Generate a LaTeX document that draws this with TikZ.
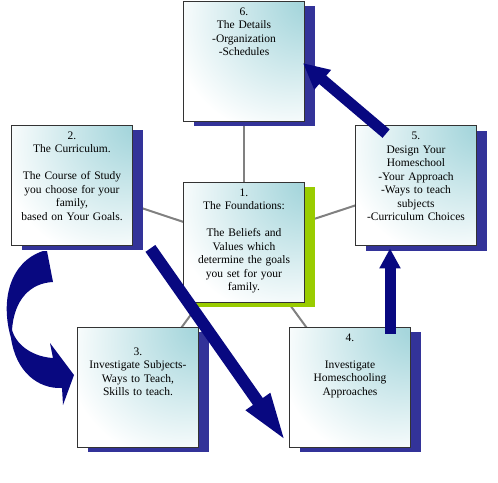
\documentclass[tikz,border=0pt]{standalone}
\usepackage{fontspec}
\setmainfont{Liberation Serif}
\usetikzlibrary{arrows.meta,shadows,backgrounds,calc}
\definecolor{boxtint}{RGB}{166,214,220}
\definecolor{boxshade}{RGB}{51,51,153}
\definecolor{foundshade}{RGB}{153,204,0}
\definecolor{arrownavy}{RGB}{8,8,128}
\definecolor{linkgray}{RGB}{128,128,128}
\pgfdeclareradialshading{boxglow}{\pgfpoint{30bp}{28bp}}{color(0bp)=(boxtint); color(6bp)=(boxtint); color(46bp)=(white); color(100bp)=(white)}
\begin{document}
\begin{tikzpicture}[x=1pt,y=-1pt]
        \tikzstyle{every node}=[font=\fontsize{11.5}{13.5}\selectfont]
        \tikzstyle{plainbox}=[draw=black!80, line width=0.8pt, minimum width=121pt, minimum height=120pt, inner sep=0pt, shade, shading=boxglow]
        \tikzstyle{stepbox}=[plainbox, drop shadow={shadow xshift=10pt, shadow yshift=-5pt, fill=boxshade, opacity=1}]
        \tikzstyle{foundbox}=[plainbox, drop shadow={shadow xshift=10pt, shadow yshift=-5pt, fill=foundshade, opacity=1}]
        \tikzstyle{boxtext}=[anchor=north, align=center, text width=118pt, inner sep=0pt]
        \tikzstyle{link}=[draw=linkgray, line width=2pt]
        \tikzstyle{bigarrow}=[draw=arrownavy, line width=11pt]
        \useasboundingbox (0,0) rectangle (498,482);
        % the six steps
        \node[stepbox] (b6) at (244,61) {};
        \node[stepbox] (b2) at (72,185) {};
        \node[foundbox] (b1) at (244,242) {};
        \node[stepbox] (b5) at (416,185.5) {};
        \node[stepbox] (b3) at (138,387) {};
        \node[stepbox] (b4) at (350,387) {};
        \node[boxtext] (t6) at ($(b6.north)+(0,7)$) {6.\\The Details\\-Organization\\-Schedules};
        \node[boxtext] (t2) at ($(b2.north)+(0,7)$) {2.\\The Curriculum.\\~\\The Course of Study\\you choose for your\\family,\\based on Your Goals.};
        \node[boxtext] (t1) at ($(b1.north)+(0,7)$) {1.\\The Foundations:\\~\\The Beliefs and\\Values which\\determine the goals\\you set for your\\family.};
        \node[boxtext] (t5) at ($(b5.north)+(0,7)$) {5.\\Design Your\\Homeschool\\-Your Approach\\-Ways to teach\\subjects\\-Curriculum Choices};
        \node[boxtext] (t3) at ($(b3.north)+(0,21)$) {3.\\Investigate Subjects-\\Ways to Teach,\\Skills to teach.};
        \node[boxtext] (t4) at ($(b4.north)+(0,7)$) {4.\\~\\Investigate\\Homeschooling\\Approaches};
        % spokes behind the boxes
        \begin{scope}[on background layer]
            \draw[link] (b1.center) -- (b6.center);
            \draw[link] (b1.center) -- (b2.center);
            \draw[link] (b1.center) -- (b5.center);
            \draw[link] (b1.center) -- (b3.center);
            \draw[link] (b1.center) -- (b4.center);
        \end{scope}
        % block arrows
        \coordinate (a5) at ($(b5.north west)+(31,8.5)$);
        \coordinate (a6) at ($(b6.east)+(-2,2)$);
        \coordinate (a4) at ($(b4.north)+(40,7)$);
        \coordinate (a5b) at ($(b5.south)+(-26,2.5)$);
        \coordinate (a2) at ($(b2.south east)+(17.5,3)$);
        \coordinate (a4b) at ($(b4.south west)+(-2.5,-5)$);
        \draw[bigarrow, -{Triangle[width=24pt,length=26pt]}] (a5) -- (a6);
        \draw[bigarrow, -{Triangle[width=20pt,length=20pt]}] (a4) -- (a5b);
        \draw[bigarrow, line width=12pt, -{Triangle[width=26pt,length=50pt]}] (a2) -- (a4b);
        \fill[arrownavy] (43,251) -- (47,251) -- (53,282)
            .. controls (30,283) and (14,300) .. (12,330)
            .. controls (17,347) and (35,357) .. (53,358)
            -- (50,343) -- (74,375) -- (63,405) -- (62,388)
            .. controls (38,389) and (16,372) .. (11,338)
            .. controls (0,300) and (10,262) .. (43,251) -- cycle;
\end{tikzpicture}
\end{document}
